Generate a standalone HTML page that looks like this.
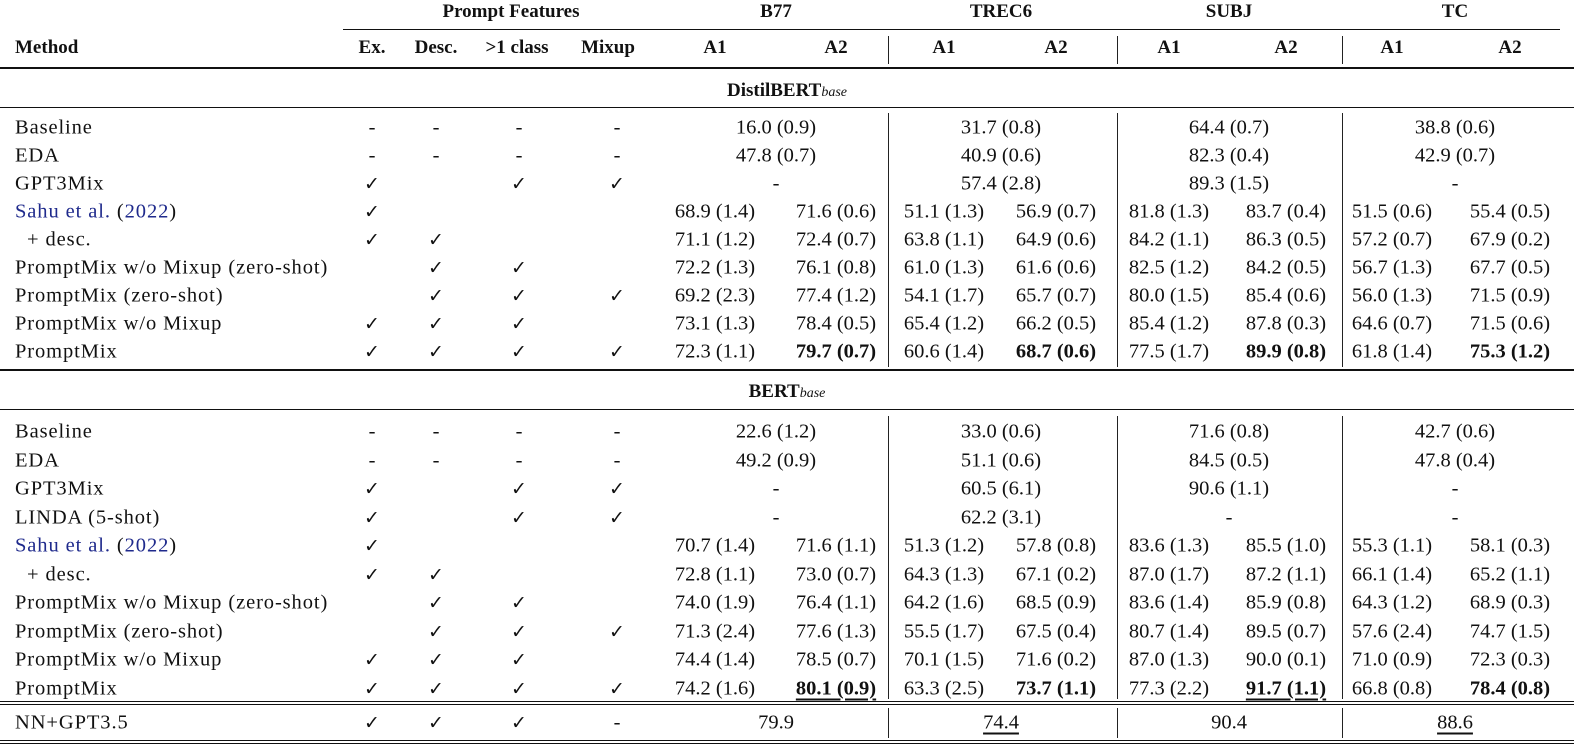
<!DOCTYPE html>
<html><head><meta charset="utf-8"><style>
body{margin:0;width:1574px;height:750px;background:#fff;position:relative;overflow:hidden;font-family:"Liberation Serif","DejaVu Serif",serif;font-size:20.5px;color:#111}
.r{position:absolute;left:0;width:1574px;height:0}
.r span{position:absolute;top:0;transform:translate(-50%,-50%);white-space:nowrap}
.r span.m{transform:translate(0,-50%);left:15px;letter-spacing:0.9px}
.h span.m{letter-spacing:0}
.h{font-weight:bold;font-size:19px}
.ck{font-family:"DejaVu Sans",sans-serif;font-size:19px}
.e{left:372px}.d{left:436px}.k{left:519px}.x{left:617px}
.a{left:715px}.b{left:836px}.p{left:944px}.q{left:1056px}.s{left:1169px}.t{left:1286px}.u{left:1392px}.v{left:1510px}
.B{left:776px}.P{left:1001px}.S{left:1229px}.T{left:1455px}
.hl{position:absolute;background:#111}
.vl{position:absolute;width:1px;background:#222}
.bl{color:#1f2a8c}
b{font-weight:bold}
u{text-underline-offset:4px}
</style></head><body>
<div class="hl" style="left:343px;width:1217px;top:29px;height:1px"></div>
<div class="hl" style="left:0;width:1574px;top:67px;height:2px"></div>
<div class="hl" style="left:0;width:1574px;top:107px;height:1px"></div>
<div class="hl" style="left:0;width:1574px;top:369px;height:2px"></div>
<div class="hl" style="left:0;width:1574px;top:409px;height:1px"></div>
<div class="hl" style="left:0;width:1574px;top:701px;height:1px"></div>
<div class="hl" style="left:0;width:1574px;top:704px;height:1px"></div>
<div class="hl" style="left:0;width:1574px;top:740px;height:1px"></div>
<div class="hl" style="left:0;width:1574px;top:743px;height:1px"></div>
<div class="vl" style="left:888px;top:36px;height:28px"></div>
<div class="vl" style="left:1117px;top:36px;height:28px"></div>
<div class="vl" style="left:1342px;top:36px;height:28px"></div>
<div class="vl" style="left:888px;top:113px;height:254px"></div>
<div class="vl" style="left:1117px;top:113px;height:254px"></div>
<div class="vl" style="left:1342px;top:113px;height:254px"></div>
<div class="vl" style="left:888px;top:416px;height:283px"></div>
<div class="vl" style="left:1117px;top:416px;height:283px"></div>
<div class="vl" style="left:1342px;top:416px;height:283px"></div>
<div class="vl" style="left:888px;top:708px;height:30px"></div>
<div class="vl" style="left:1117px;top:708px;height:30px"></div>
<div class="vl" style="left:1342px;top:708px;height:30px"></div>

<div class="r h" style="top:12px"><span style="left:511px">Prompt Features</span><span class="B">B77</span><span class="P">TREC6</span><span class="S">SUBJ</span><span class="T">TC</span></div>
<div class="r h" style="top:48px"><span class="m">Method</span><span style="left:372px">Ex.</span><span class="d">Desc.</span><span style="left:517px">&gt;1 class</span><span style="left:608px">Mixup</span><span class="a">A1</span><span class="b">A2</span><span class="p">A1</span><span class="q">A2</span><span class="s">A1</span><span class="t">A2</span><span class="u">A1</span><span class="v">A2</span></div>
<div class="r h" style="top:91px"><span style="left:787px">DistilBERT<i style="font-weight:normal;font-size:14px">base</i></span></div>

<div class="r" style="top:128px"><span class="m">Baseline</span><span class="e">-</span><span class="d">-</span><span class="k">-</span><span class="x">-</span><span class="B">16.0 (0.9)</span><span class="P">31.7 (0.8)</span><span class="S">64.4 (0.7)</span><span class="T">38.8 (0.6)</span></div>
<div class="r" style="top:156px"><span class="m">EDA</span><span class="e">-</span><span class="d">-</span><span class="k">-</span><span class="x">-</span><span class="B">47.8 (0.7)</span><span class="P">40.9 (0.6)</span><span class="S">82.3 (0.4)</span><span class="T">42.9 (0.7)</span></div>
<div class="r" style="top:184px"><span class="m">GPT3Mix</span><span class="e ck">✓</span><span class="k ck">✓</span><span class="x ck">✓</span><span class="B">-</span><span class="P">57.4 (2.8)</span><span class="S">89.3 (1.5)</span><span class="T">-</span></div>
<div class="r" style="top:212px"><span class="m"><span class="bl" style="position:static;transform:none">Sahu et al.</span> (<span class="bl" style="position:static;transform:none">2022</span>)</span><span class="e ck">✓</span><span class="a">68.9 (1.4)</span><span class="b">71.6 (0.6)</span><span class="p">51.1 (1.3)</span><span class="q">56.9 (0.7)</span><span class="s">81.8 (1.3)</span><span class="t">83.7 (0.4)</span><span class="u">51.5 (0.6)</span><span class="v">55.4 (0.5)</span></div>
<div class="r" style="top:240px"><span class="m">&nbsp;&nbsp;+ desc.</span><span class="e ck">✓</span><span class="d ck">✓</span><span class="a">71.1 (1.2)</span><span class="b">72.4 (0.7)</span><span class="p">63.8 (1.1)</span><span class="q">64.9 (0.6)</span><span class="s">84.2 (1.1)</span><span class="t">86.3 (0.5)</span><span class="u">57.2 (0.7)</span><span class="v">67.9 (0.2)</span></div>
<div class="r" style="top:268px"><span class="m">PromptMix w/o Mixup (zero-shot)</span><span class="d ck">✓</span><span class="k ck">✓</span><span class="a">72.2 (1.3)</span><span class="b">76.1 (0.8)</span><span class="p">61.0 (1.3)</span><span class="q">61.6 (0.6)</span><span class="s">82.5 (1.2)</span><span class="t">84.2 (0.5)</span><span class="u">56.7 (1.3)</span><span class="v">67.7 (0.5)</span></div>
<div class="r" style="top:296px"><span class="m">PromptMix (zero-shot)</span><span class="d ck">✓</span><span class="k ck">✓</span><span class="x ck">✓</span><span class="a">69.2 (2.3)</span><span class="b">77.4 (1.2)</span><span class="p">54.1 (1.7)</span><span class="q">65.7 (0.7)</span><span class="s">80.0 (1.5)</span><span class="t">85.4 (0.6)</span><span class="u">56.0 (1.3)</span><span class="v">71.5 (0.9)</span></div>
<div class="r" style="top:324px"><span class="m">PromptMix w/o Mixup</span><span class="e ck">✓</span><span class="d ck">✓</span><span class="k ck">✓</span><span class="a">73.1 (1.3)</span><span class="b">78.4 (0.5)</span><span class="p">65.4 (1.2)</span><span class="q">66.2 (0.5)</span><span class="s">85.4 (1.2)</span><span class="t">87.8 (0.3)</span><span class="u">64.6 (0.7)</span><span class="v">71.5 (0.6)</span></div>
<div class="r" style="top:352px"><span class="m">PromptMix</span><span class="e ck">✓</span><span class="d ck">✓</span><span class="k ck">✓</span><span class="x ck">✓</span><span class="a">72.3 (1.1)</span><span class="b"><b>79.7 (0.7)</b></span><span class="p">60.6 (1.4)</span><span class="q"><b>68.7 (0.6)</b></span><span class="s">77.5 (1.7)</span><span class="t"><b>89.9 (0.8)</b></span><span class="u">61.8 (1.4)</span><span class="v"><b>75.3 (1.2)</b></span></div>

<div class="r h" style="top:392px"><span style="left:787px">BERT<i style="font-weight:normal;font-size:14px">base</i></span></div>

<div class="r" style="top:432px"><span class="m">Baseline</span><span class="e">-</span><span class="d">-</span><span class="k">-</span><span class="x">-</span><span class="B">22.6 (1.2)</span><span class="P">33.0 (0.6)</span><span class="S">71.6 (0.8)</span><span class="T">42.7 (0.6)</span></div>
<div class="r" style="top:460.5px"><span class="m">EDA</span><span class="e">-</span><span class="d">-</span><span class="k">-</span><span class="x">-</span><span class="B">49.2 (0.9)</span><span class="P">51.1 (0.6)</span><span class="S">84.5 (0.5)</span><span class="T">47.8 (0.4)</span></div>
<div class="r" style="top:489px"><span class="m">GPT3Mix</span><span class="e ck">✓</span><span class="k ck">✓</span><span class="x ck">✓</span><span class="B">-</span><span class="P">60.5 (6.1)</span><span class="S">90.6 (1.1)</span><span class="T">-</span></div>
<div class="r" style="top:517.5px"><span class="m">LINDA (5-shot)</span><span class="e ck">✓</span><span class="k ck">✓</span><span class="x ck">✓</span><span class="B">-</span><span class="P">62.2 (3.1)</span><span class="S">-</span><span class="T">-</span></div>
<div class="r" style="top:546px"><span class="m"><span class="bl" style="position:static;transform:none">Sahu et al.</span> (<span class="bl" style="position:static;transform:none">2022</span>)</span><span class="e ck">✓</span><span class="a">70.7 (1.4)</span><span class="b">71.6 (1.1)</span><span class="p">51.3 (1.2)</span><span class="q">57.8 (0.8)</span><span class="s">83.6 (1.3)</span><span class="t">85.5 (1.0)</span><span class="u">55.3 (1.1)</span><span class="v">58.1 (0.3)</span></div>
<div class="r" style="top:574.5px"><span class="m">&nbsp;&nbsp;+ desc.</span><span class="e ck">✓</span><span class="d ck">✓</span><span class="a">72.8 (1.1)</span><span class="b">73.0 (0.7)</span><span class="p">64.3 (1.3)</span><span class="q">67.1 (0.2)</span><span class="s">87.0 (1.7)</span><span class="t">87.2 (1.1)</span><span class="u">66.1 (1.4)</span><span class="v">65.2 (1.1)</span></div>
<div class="r" style="top:603px"><span class="m">PromptMix w/o Mixup (zero-shot)</span><span class="d ck">✓</span><span class="k ck">✓</span><span class="a">74.0 (1.9)</span><span class="b">76.4 (1.1)</span><span class="p">64.2 (1.6)</span><span class="q">68.5 (0.9)</span><span class="s">83.6 (1.4)</span><span class="t">85.9 (0.8)</span><span class="u">64.3 (1.2)</span><span class="v">68.9 (0.3)</span></div>
<div class="r" style="top:631.5px"><span class="m">PromptMix (zero-shot)</span><span class="d ck">✓</span><span class="k ck">✓</span><span class="x ck">✓</span><span class="a">71.3 (2.4)</span><span class="b">77.6 (1.3)</span><span class="p">55.5 (1.7)</span><span class="q">67.5 (0.4)</span><span class="s">80.7 (1.4)</span><span class="t">89.5 (0.7)</span><span class="u">57.6 (2.4)</span><span class="v">74.7 (1.5)</span></div>
<div class="r" style="top:660px"><span class="m">PromptMix w/o Mixup</span><span class="e ck">✓</span><span class="d ck">✓</span><span class="k ck">✓</span><span class="a">74.4 (1.4)</span><span class="b">78.5 (0.7)</span><span class="p">70.1 (1.5)</span><span class="q">71.6 (0.2)</span><span class="s">87.0 (1.3)</span><span class="t">90.0 (0.1)</span><span class="u">71.0 (0.9)</span><span class="v">72.3 (0.3)</span></div>
<div class="r" style="top:688.5px"><span class="m">PromptMix</span><span class="e ck">✓</span><span class="d ck">✓</span><span class="k ck">✓</span><span class="x ck">✓</span><span class="a">74.2 (1.6)</span><span class="b"><b><u>80.1 (0.9)</u></b></span><span class="p">63.3 (2.5)</span><span class="q"><b>73.7 (1.1)</b></span><span class="s">77.3 (2.2)</span><span class="t"><b><u>91.7 (1.1)</u></b></span><span class="u">66.8 (0.8)</span><span class="v"><b>78.4 (0.8)</b></span></div>

<div class="r" style="top:723px"><span class="m">NN+GPT3.5</span><span class="e ck">✓</span><span class="d ck">✓</span><span class="k ck">✓</span><span class="x">-</span><span class="B">79.9</span><span class="P"><u>74.4</u></span><span class="S">90.4</span><span class="T"><u>88.6</u></span></div>
</body></html>
